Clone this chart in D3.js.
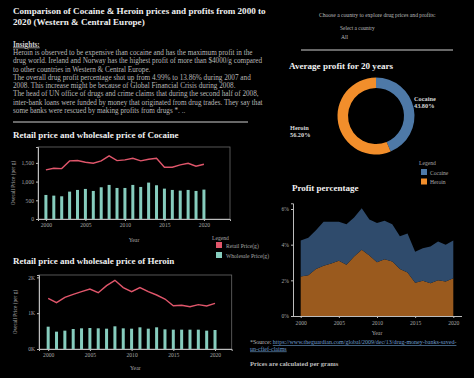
<!DOCTYPE html>
<html><head><meta charset="utf-8">
<script src="https://cdn.jsdelivr.net/npm/d3@7"></script>
<style>
html,body{margin:0;padding:0;background:#000;}
svg{display:block;}
text{font-family:"Liberation Serif","Times New Roman",serif;}
</style></head>
<body>
<svg id="c" width="474" height="378"></svg>
<script>
// ---------- DATA ----------
const years = d3.range(2000, 2021);
const cocaineRetail = [1312,1357,1348,1554,1562,1518,1491,1554,1687,1562,1580,1625,1554,1598,1625,1384,1384,1446,1491,1410,1464];
const cocaineWholesale = [643,625,607,732,777,804,750,848,911,830,830,911,857,973,902,812,777,759,777,750,786];
const heroinRetail = [1414,1293,1442,1526,1600,1674,1572,1767,1916,1712,1600,1712,1600,1507,1395,1209,1219,1181,1237,1200,1274];
const heroinWholesale = [623,484,512,558,577,586,577,567,633,577,567,605,567,605,549,540,540,540,540,512,530];
const profitHeroin = [2.21,2.29,2.63,2.82,2.95,3.10,2.88,3.33,3.71,3.39,3.01,3.18,3.05,2.63,2.44,1.87,1.97,1.84,2.01,1.93,2.12];
const profitTotal = [4.24,4.39,4.81,5.28,5.28,5.28,5.15,5.53,6.04,5.41,5.22,5.34,5.15,4.47,4.62,3.61,3.80,3.90,4.18,3.99,4.24];
const profitCocaine = profitTotal.map((t,i)=>+(t-profitHeroin[i]).toFixed(2));
const donutLabels = ["Cocaine","Heroin"];
const donutValues = [43.80, 56.20];
const xTicks = [2000,2005,2010,2015,2020];
const cocaineYTicks = [0,500,1000,1500];
const heroinYTicks = [0,1000,2000];
const profitYTicks = [0,2,4,6];
const insights = [
 "Heroin is observed to be expensive than cocaine and has the maximum profit in the",
 "drug world. Ireland and Norway has the highest profit of more than $4000/g compared",
 "to other countries in Western & Central Europe.",
 "The overall drug profit percentage shot up from 4.99% to 13.86% during 2007 and",
 "2008. This increase might be because of Global Financial Crisis during 2008.",
 "The head of UN office of drugs and crime claims that during the second half of 2008,",
 "inter-bank loans were funded by money that originated from drug trades. They say that",
 "some banks were rescued by making profits from drugs *. .."
];

// ---------- STYLE ----------
const RED = "#e0566b", TEAL = "#86cdbe", BLUE = "#4e79a7", ORANGE = "#f28e2b";
const BLUE_AREA = "#2f4b6c", ORANGE_AREA = "#9a5a1e";
const svg = d3.select("#c");
svg.append("rect").attr("width",474).attr("height",378).attr("fill","#000");

// ---------- TEXT BLOCK ----------
const title = svg.append("text").attr("x",13).attr("y",14).attr("fill","#f0f0f0")
  .attr("font-size",9.1).attr("font-weight","bold");
title.append("tspan").attr("x",13).text("Comparison of Cocaine & Heroin prices and profits from 2000 to");
title.append("tspan").attr("x",13).attr("dy",10.5).text("2020 (Western & Central Europe)");

svg.append("text").attr("x",13).attr("y",46.5).attr("fill","#cfcfcf").attr("font-size",7.2)
  .attr("font-weight","bold").attr("text-decoration","underline").text("Insights:");
svg.append("g").selectAll("text").data(insights).join("text")
  .attr("x",13).attr("y",(d,i)=>55+i*8.25).attr("fill","#b8b8b8").attr("font-size",7.2).text(d=>d);
svg.append("line").attr("x1",13).attr("x2",248).attr("y1",122).attr("y2",122).attr("stroke","#cfcfcf").attr("stroke-width",1);

// top right controls
svg.append("text").attr("x",319).attr("y",17).attr("fill","#bdbdbd").attr("font-size",5.6)
  .text("Choose a country to explore drug prices and profits:");
svg.append("text").attr("x",340).attr("y",29.5).attr("fill","#bdbdbd").attr("font-size",5.4).text("Select a country");
svg.append("text").attr("x",341).attr("y",39).attr("fill","#bdbdbd").attr("font-size",5.6).text("All");
svg.append("line").attr("x1",301).attr("x2",453).attr("y1",50).attr("y2",50).attr("stroke","#cfcfcf").attr("stroke-width",1);

// ---------- PRICE CHART helper ----------
function priceChart(o){
  const g = svg.append("g");
  const x = d3.scaleLinear().domain(o.xd).range([o.x0,o.x1]);
  const y = d3.scaleLinear().domain([0,o.ymax]).range([o.y1,o.y0]);
  g.append("text").attr("x",13).attr("y",o.ty).attr("fill","#f0f0f0").attr("font-size",9)
    .attr("font-weight","bold").text(o.title);
  // frame
  g.append("rect").attr("x",o.x0).attr("y",o.y0).attr("width",o.x1-o.x0).attr("height",o.y1-o.y0)
    .attr("fill","none").attr("stroke","#6a6a6a").attr("stroke-width",0.8);
  // bars
  const bw = 3;
  g.selectAll("rect.bar").data(years.map((yr,i)=>({yr,v:o.wh[i]}))).join("rect").attr("class","bar")
    .attr("x",d=>x(d.yr)-bw/2).attr("width",bw).attr("y",d=>y(d.v)).attr("height",d=>y(0)-y(d.v))
    .attr("fill",TEAL);
  // line
  g.append("path").datum(years.map((yr,i)=>[yr,o.rt[i]]))
    .attr("d",d3.line().x(d=>x(d[0])).y(d=>y(d[1])))
    .attr("fill","none").attr("stroke",RED).attr("stroke-width",1.4);
  // axes
  const ax = g.append("g").attr("transform",`translate(0,${o.y1})`)
    .call(d3.axisBottom(x).tickValues(xTicks).tickFormat(d3.format("d")).tickSize(2).tickPadding(2));
  const ay = g.append("g").attr("transform",`translate(${o.x0},0)`)
    .call(d3.axisLeft(y).tickValues(o.yt).tickFormat(o.fmt).tickSize(2).tickPadding(2));
  [ax,ay].forEach(a=>{
    a.select(".domain").attr("stroke","#bdbdbd");
    a.selectAll(".tick line").attr("stroke","#bdbdbd");
    a.selectAll(".tick text").attr("fill","#a8a8a8").attr("font-size",5.6).attr("font-family","Liberation Serif, serif");
  });
  g.append("text").attr("x",(o.x0+o.x1)/2).attr("y",o.xl).attr("text-anchor","middle")
    .attr("fill","#a8a8a8").attr("font-size",5.8).text("Year");
  g.append("text").attr("transform",`translate(${o.yl},${(o.y0+o.y1)/2}) rotate(-90)`)
    .attr("text-anchor","middle").attr("fill","#a8a8a8").attr("font-size",5.4).text("Overall Price (per g)");
}
priceChart({title:"Retail price and wholesale price of Cocaine",ty:137.5,xd:[1999,2023.3],x0:38,x1:230,
  y0:147,y1:219,ymax:1925,rt:cocaineRetail,wh:cocaineWholesale,yt:cocaineYTicks,fmt:d3.format(","),xl:242,yl:15});
priceChart({title:"Retail price and wholesale price of Heroin",ty:263.5,xd:[1998.9,2022],x0:39,x1:231.7,
  y0:275,y1:349,ymax:2065,rt:heroinRetail,wh:heroinWholesale,yt:heroinYTicks,fmt:d=>(d/1000)+"K",xl:370,yl:17});

// price legend
const lg = svg.append("g");
lg.append("text").attr("x",212).attr("y",239.5).attr("fill","#a8a8a8").attr("font-size",5.6).text("Legend");
[["Retail Price(g)",RED],["Wholesale Price(g)",TEAL]].forEach((d,i)=>{
  lg.append("rect").attr("x",216).attr("y",242+i*10).attr("width",6).attr("height",6).attr("fill",d[1]);
  lg.append("text").attr("x",226).attr("y",247.5+i*10).attr("fill","#a8a8a8").attr("font-size",5.6).text(d[0]);
});

// ---------- DONUT ----------
svg.append("text").attr("x",289).attr("y",69).attr("fill","#f0f0f0").attr("font-size",9.1)
  .attr("font-weight","bold").text("Average profit for 20 years");
const pie = d3.pie().sort(null)(donutValues);
const arc = d3.arc().innerRadius(28).outerRadius(38.5);
const dg = svg.append("g").attr("transform","translate(376,116)");
dg.selectAll("path").data(pie).join("path").attr("d",arc).attr("fill",(d,i)=>[BLUE,ORANGE][i]);
const dl = [{x:414,y:101,a:"start"},{x:290,y:130,a:"start"}];
donutLabels.forEach((lab,i)=>{
  const t = svg.append("text").attr("x",dl[i].x).attr("y",dl[i].y).attr("fill","#d8d8d8")
    .attr("font-size",6.3).attr("font-weight","bold");
  t.append("tspan").attr("x",dl[i].x).text(lab);
  t.append("tspan").attr("x",dl[i].x).attr("dy",7.2).text(donutValues[i].toFixed(2)+"%");
});
const dlg = svg.append("g");
dlg.append("text").attr("x",419).attr("y",165).attr("fill","#a8a8a8").attr("font-size",5.6).text("Legend");
donutLabels.forEach((lab,i)=>{
  dlg.append("rect").attr("x",421).attr("y",169+i*9.5).attr("width",6).attr("height",6).attr("fill",[BLUE,ORANGE][i]);
  dlg.append("text").attr("x",430).attr("y",174.5+i*9.5).attr("fill","#a8a8a8").attr("font-size",5.6).text(lab);
});

// ---------- PROFIT AREA ----------
svg.append("text").attr("x",292).attr("y",190.5).attr("fill","#f0f0f0").attr("font-size",9)
  .attr("font-weight","bold").text("Profit percentage");
const px = d3.scaleLinear().domain([2000,2020]).range([300.7,453.3]);
const py = d3.scaleLinear().domain([0,6.32]).range([316,203.3]);
const stackData = years.map((yr,i)=>({yr,Heroin:profitHeroin[i],Cocaine:profitCocaine[i]}));
const series = d3.stack().keys(["Heroin","Cocaine"])(stackData);
const area = d3.area().x(d=>px(d.data.yr)).y0(d=>py(d[0])).y1(d=>py(d[1]));
svg.append("g").selectAll("path").data(series).join("path").attr("d",area)
  .attr("fill",(d,i)=>[ORANGE_AREA,BLUE_AREA][i]);
const pax = svg.append("g").attr("transform","translate(0,316)")
  .call(d3.axisBottom(px).tickValues(xTicks).tickFormat(d3.format("d")).tickSize(2).tickPadding(3));
pax.select(".domain").attr("d","M293,0.5H462");
const pay = svg.append("g").attr("transform","translate(293,0)")
  .call(d3.axisLeft(py).tickValues(profitYTicks).tickFormat(d=>d+"%").tickSize(2).tickPadding(2));
[pax,pay].forEach(a=>{
  a.select(".domain").attr("stroke","#bdbdbd");
  a.selectAll(".tick line").attr("stroke","#bdbdbd");
  a.selectAll(".tick text").attr("fill","#a8a8a8").attr("font-size",5.6).attr("font-family","Liberation Serif, serif");
});
svg.append("text").attr("x",377).attr("y",335).attr("text-anchor","middle").attr("fill","#a8a8a8")
  .attr("font-size",5.8).text("Year");

// source
const src = svg.append("text").attr("x",250).attr("y",344).attr("font-size",6).attr("fill","#bdbdbd");
src.append("tspan").text("*Source: ");
src.append("tspan").attr("fill","#6f9fcf").attr("text-decoration","underline")
  .text("https://www.theguardian.com/global/2009/dec/13/drug-money-banks-saved-");
svg.append("text").attr("x",250).attr("y",350.5).attr("font-size",6).attr("fill","#6f9fcf")
  .attr("text-decoration","underline").text("un-cfief-claims");
svg.append("text").attr("x",250).attr("y",366).attr("font-size",6.6).attr("font-weight","bold")
  .attr("fill","#bdbdbd").text("Prices are calculated per grams");
</script>
</body></html>
